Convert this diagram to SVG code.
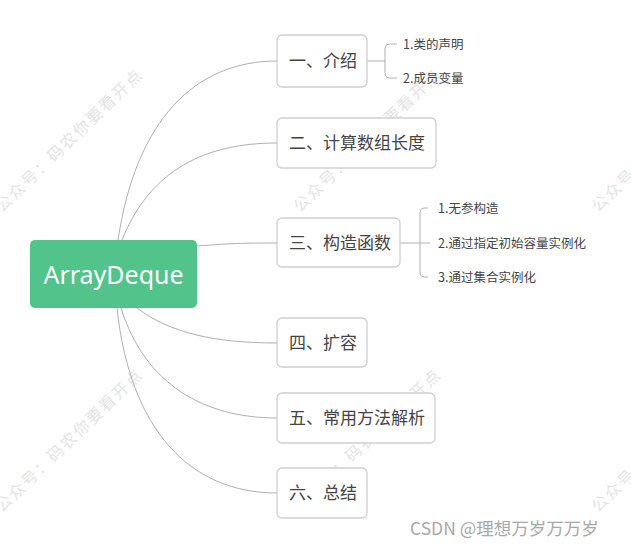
<svg xmlns="http://www.w3.org/2000/svg" width="631" height="549" viewBox="0 0 631 549">
<style>
.wm{font-family:"Noto Sans CJK SC","Noto Sans",sans-serif;font-size:16px;fill:#e4e4e4}
.node rect{fill:#fff;stroke:#cfcfcf;stroke-width:1.3}
.node text{font-family:"Noto Sans CJK SC","Noto Sans",sans-serif;font-size:17px;fill:#444}
.sub{font-family:"Noto Sans CJK SC","Noto Sans",sans-serif;font-size:12.5px;fill:#444}
.conn path{fill:none;stroke:#b0b0b0;stroke-width:1}
</style>
<rect width="631" height="549" fill="#fff"/>
<g id="watermarks">
<text class="wm" transform="translate(2,213) rotate(-44)" textLength="196" lengthAdjust="spacing">公众号：码农你要看开点</text>
<text class="wm" transform="translate(2,513) rotate(-44)" textLength="196" lengthAdjust="spacing">公众号：码农你要看开点</text>
<text class="wm" transform="translate(300,213) rotate(-44)" textLength="196" lengthAdjust="spacing">公众号：码农你要看开点</text>
<text class="wm" transform="translate(300,513) rotate(-44)" textLength="196" lengthAdjust="spacing">公众号：码农你要看开点</text>
<text class="wm" transform="translate(598,213) rotate(-44)" textLength="196" lengthAdjust="spacing">公众号：码农你要看开点</text>
<text class="wm" transform="translate(598,513) rotate(-44)" textLength="196" lengthAdjust="spacing">公众号：码农你要看开点</text>
</g>
<g id="connectors" class="conn">
<path d="M118,240 C136,120 195,61 277,61"/>
<path d="M122,240 C150,170 205,143 277,143"/>
<path d="M197,246 C235,243 250,243 277,243"/>
<path d="M137,308 C170,333 215,343 277,343"/>
<path d="M121,308 C145,385 205,418 277,418"/>
<path d="M117,308 C130,430 190,493 277,493"/>
<path d="M367,61 L385,61 M397,44 L390,44 Q385,44 385,49 L385,73 Q385,78 390,78 L397,78"/>
<path d="M400,243 L430,243 M428,208 L425,208 Q420,208 420,213 L420,272 Q420,277 425,277 L428,277"/>
</g>
<g id="root">
<rect x="30" y="240" width="167" height="68" rx="5" fill="#52c38a"/>
<text x="113.5" y="283.5" text-anchor="middle" font-family="'Noto Sans','Open Sans',sans-serif" font-size="25" fill="#fff">ArrayDeque</text>
</g>
<g id="n1" class="node">
<rect x="277" y="35" width="90" height="52" rx="5"/>
<text x="289" y="67">一、介绍</text>
</g>
<g id="n1a"><text class="sub" x="403" y="49">1.类的声明</text></g>
<g id="n1b"><text class="sub" x="403" y="83">2.成员变量</text></g>
<g id="n2" class="node">
<rect x="277" y="118" width="159" height="50" rx="5"/>
<text x="289" y="149">二、计算数组长度</text>
</g>
<g id="n3" class="node">
<rect x="277" y="218" width="123" height="49" rx="5"/>
<text x="289" y="249">三、构造函数</text>
</g>
<g id="n3a"><text class="sub" x="438" y="213">1.无参构造</text></g>
<g id="n3b"><text class="sub" x="438" y="248">2.通过指定初始容量实例化</text></g>
<g id="n3c"><text class="sub" x="438" y="282">3.通过集合实例化</text></g>
<g id="n4" class="node">
<rect x="277" y="318" width="90" height="49" rx="5"/>
<text x="289" y="349">四、扩容</text>
</g>
<g id="n5" class="node">
<rect x="277" y="393" width="158" height="50" rx="5"/>
<text x="289" y="424">五、常用方法解析</text>
</g>
<g id="n6" class="node">
<rect x="277" y="468" width="90" height="50" rx="5"/>
<text x="289" y="499">六、总结</text>
</g>
<text x="410" y="535" font-family="'Noto Sans CJK SC','Noto Sans',sans-serif" font-size="17.5" fill="#a8a8a8">CSDN @理想万岁万万岁</text>
</svg>
